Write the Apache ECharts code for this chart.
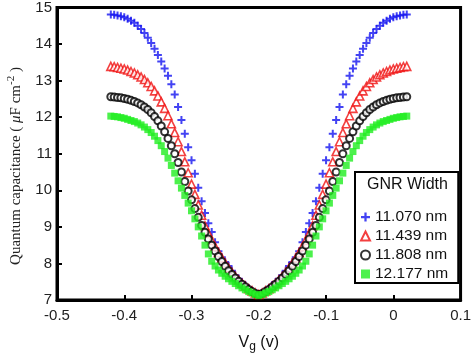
<!DOCTYPE html>
<html>
<head>
<meta charset="utf-8">
<script src="https://cdn.jsdelivr.net/npm/echarts@6/dist/echarts.min.js"></script>
<style>
html,body{margin:0;padding:0;background:#fff;}
#c{width:474px;height:358px;}
</style>
</head>
<body>
<div id="c"></div>
<script>
// Gate voltage (V)
const vg = [-0.420,-0.415,-0.410,-0.405,-0.400,-0.395,-0.390,-0.385,-0.380,-0.375,-0.370,-0.365,-0.360,-0.355,-0.350,-0.345,-0.340,-0.335,-0.330,-0.325,-0.320,-0.315,-0.310,-0.305,-0.300,-0.295,-0.290,-0.285,-0.280,-0.275,-0.270,-0.265,-0.260,-0.255,-0.250,-0.245,-0.240,-0.235,-0.230,-0.225,-0.220,-0.215,-0.210,-0.205,-0.200,-0.195,-0.190,-0.185,-0.180,-0.175,-0.170,-0.165,-0.160,-0.155,-0.150,-0.145,-0.140,-0.135,-0.130,-0.125,-0.120,-0.115,-0.110,-0.105,-0.100,-0.095,-0.090,-0.085,-0.080,-0.075,-0.070,-0.065,-0.060,-0.055,-0.050,-0.045,-0.040,-0.035,-0.030,-0.025,-0.020,-0.015,-0.010,-0.005,0.000,0.005,0.010,0.015,0.020];

const seriesNames = ['11.070 nm', '11.439 nm', '11.808 nm', '12.177 nm'];

const cq11070 = [14.81,14.80,14.78,14.76,14.73,14.69,14.64,14.58,14.50,14.41,14.30,14.17,14.03,13.87,13.70,13.52,13.33,13.13,12.90,12.62,12.28,11.92,11.55,11.18,10.82,10.45,10.07,9.70,9.38,9.10,8.86,8.58,8.33,8.17,8.04,7.93,7.80,7.68,7.58,7.49,7.41,7.33,7.26,7.20,7.15,
7.20,7.26,7.33,7.41,7.49,7.58,7.68,7.80,7.93,8.04,8.17,8.33,8.58,8.86,9.10,9.38,9.70,10.07,10.45,10.82,11.18,11.55,11.92,12.28,12.62,12.90,13.13,13.33,13.52,13.70,13.87,14.03,14.17,14.30,14.41,14.50,14.58,14.64,14.69,14.73,14.76,14.78,14.80,14.81];

const cq11439 = [13.39,13.38,13.36,13.34,13.32,13.29,13.25,13.21,13.16,13.10,13.03,12.94,12.84,12.72,12.58,12.42,12.24,12.04,11.82,11.58,11.33,11.06,10.78,10.48,10.17,9.89,9.60,9.32,9.03,8.82,8.63,8.46,8.30,8.15,8.01,7.88,7.76,7.65,7.55,7.46,7.38,7.31,7.25,7.19,7.15,
7.19,7.25,7.31,7.38,7.46,7.55,7.65,7.76,7.88,8.01,8.15,8.30,8.46,8.63,8.82,9.03,9.32,9.60,9.89,10.17,10.48,10.78,11.06,11.33,11.58,11.82,12.04,12.24,12.42,12.58,12.72,12.84,12.94,13.03,13.10,13.16,13.21,13.25,13.29,13.32,13.34,13.36,13.38,13.39];

const cq11808 = [12.56,12.55,12.54,12.53,12.51,12.49,12.46,12.43,12.39,12.34,12.28,12.21,12.12,12.02,11.90,11.76,11.60,11.42,11.22,11.00,10.76,10.50,10.24,9.98,9.74,9.50,9.26,9.04,8.85,8.67,8.50,8.34,8.19,8.05,7.92,7.80,7.70,7.60,7.51,7.43,7.36,7.29,7.23,7.18,7.14,
7.18,7.23,7.29,7.36,7.43,7.51,7.60,7.70,7.80,7.92,8.05,8.19,8.34,8.50,8.67,8.85,9.04,9.26,9.50,9.74,9.98,10.24,10.50,10.76,11.00,11.22,11.42,11.60,11.76,11.90,12.02,12.12,12.21,12.28,12.34,12.39,12.43,12.46,12.49,12.51,12.53,12.54,12.55,12.56];

const cq12177 = [12.03,12.02,12.01,11.99,11.97,11.94,11.91,11.88,11.84,11.79,11.73,11.66,11.58,11.48,11.36,11.22,11.06,10.88,10.68,10.47,10.26,10.06,9.86,9.65,9.44,9.22,9.00,8.75,8.50,8.26,8.06,7.93,7.82,7.73,7.65,7.58,7.51,7.45,7.39,7.33,7.28,7.23,7.19,7.15,7.12,
7.15,7.19,7.23,7.28,7.33,7.39,7.45,7.51,7.58,7.65,7.73,7.82,7.93,8.06,8.26,8.50,8.75,9.00,9.22,9.44,9.65,9.86,10.06,10.26,10.47,10.68,10.88,11.06,11.22,11.36,11.48,11.58,11.66,11.73,11.79,11.84,11.88,11.91,11.94,11.97,11.99,12.01,12.02,12.03];

const xTicks = {min: -0.5, max: 0.1, step: 0.1};
const yTicks = {min: 7, max: 15, step: 1};

const pts = arr => vg.map((v, i) => [v, arr[i]]);
const plusPath = 'path://M3,0H5V3H8V5H5V8H3V5H0V3H3Z';

const chart = echarts.init(document.getElementById('c'), null, {renderer: 'canvas'});
const sansFont = 'Liberation Sans, Arial, sans-serif';
const serifFont = 'Liberation Serif, Times New Roman, serif';

chart.setOption({
  animation: false,
  backgroundColor: '#fff',
  title: {
    text: 'GNR Width',
    left: 367, top: 177, padding: 0, z: 10,
    textStyle: {fontFamily: sansFont, fontSize: 16, fontWeight: 'normal', color: '#111'}
  },
  grid: {left: 57, right: 8, top: 7, bottom: 57, show: true, borderColor: '#000', borderWidth: 3},
  xAxis: {
    type: 'value', min: xTicks.min, max: xTicks.max, interval: xTicks.step,
    name: '{a|V}{b|g}{a| (v)}', nameLocation: 'middle', nameGap: 33,
    nameTextStyle: {
      rich: {
        a: {fontFamily: sansFont, fontSize: 16, color: '#111', lineHeight: 20, verticalAlign: 'middle'},
        b: {fontFamily: sansFont, fontSize: 12, color: '#111', lineHeight: 20, verticalAlign: 'bottom', padding: [10, 0, 0, 0]}
      }
    },
    axisLine: {onZero: false, lineStyle: {color: '#000', width: 3}},
    axisTick: {inside: true, length: 5, lineStyle: {color: '#000', width: 2}},
    axisLabel: {fontFamily: sansFont, fontSize: 15, color: '#222', margin: 8,
      formatter: v => (Math.abs(v) < 1e-9 ? '0' : String(Math.round(v * 10) / 10))},
    splitLine: {show: false}
  },
  yAxis: {
    type: 'value', min: yTicks.min, max: yTicks.max, interval: yTicks.step,
    axisLine: {onZero: false, lineStyle: {color: '#000', width: 3}},
    axisTick: {inside: true, length: 5, lineStyle: {color: '#000', width: 2}},
    axisLabel: {fontFamily: sansFont, fontSize: 15, color: '#222', margin: 5},
    splitLine: {show: false}
  },
  legend: {
    orient: 'vertical', left: 355, top: 172,
    padding: [37, 10, 1, 5], itemGap: 3, itemWidth: 9, itemHeight: 9,
    backgroundColor: '#fff', borderColor: '#000', borderWidth: 2, borderRadius: 0,
    textStyle: {fontFamily: sansFont, fontSize: 15.5, color: '#111'},
    data: seriesNames
  },
  graphic: [{
    type: 'text', x: 15, y: 166, rotation: Math.PI / 2,
    style: {
      text: '{a|Quantum capacitance ( }{i|μ}{a|F cm}{s|-2}{a| )}',
      align: 'center', verticalAlign: 'middle',
      rich: {
        a: {fontFamily: serifFont, fontSize: 15, fill: '#222', lineHeight: 18, verticalAlign: 'bottom'},
        i: {fontFamily: serifFont, fontSize: 15, fontStyle: 'italic', fill: '#222', lineHeight: 18, verticalAlign: 'bottom'},
        s: {fontFamily: serifFont, fontSize: 11, fill: '#222', lineHeight: 18, verticalAlign: 'top'}
      }
    }
  }],
  series: [
    {name: seriesNames[0], type: 'scatter', symbol: plusPath, symbolSize: 8,
     itemStyle: {color: '#1414f0'}, data: pts(cq11070)},
    {name: seriesNames[1], type: 'scatter', symbol: 'triangle', symbolSize: 8,
     itemStyle: {color: '#fff', borderColor: '#f01010', borderWidth: 1.6}, data: pts(cq11439)},
    {name: seriesNames[2], type: 'scatter', symbol: 'emptyCircle', symbolSize: 7,
     itemStyle: {color: '#000', borderColor: '#000', borderWidth: 1.6}, data: pts(cq11808)},
    {name: seriesNames[3], type: 'scatter', symbol: 'rect', symbolSize: 7,
     itemStyle: {color: '#1fee1f'}, data: pts(cq12177)}
  ]
});
</script>
</body>
</html>
